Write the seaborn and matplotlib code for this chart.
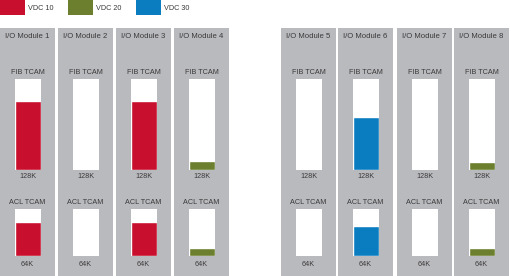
import matplotlib
matplotlib.use("Agg")
import matplotlib.pyplot as plt
import seaborn as sns
from matplotlib.patches import Rectangle

sns.set_theme(style="white")
plt.rcParams['font.family'] = ['Liberation Sans', 'DejaVu Sans']

# ---- data ----
modules = ["I/O Module 1", "I/O Module 2", "I/O Module 3", "I/O Module 4",
           "I/O Module 5", "I/O Module 6", "I/O Module 7", "I/O Module 8"]
module_vdc = ["VDC 10", None, "VDC 10", "VDC 20", None, "VDC 30", None, "VDC 20"]
fib_used = [0.76, 0.0, 0.76, 0.10, 0.0, 0.58, 0.0, 0.09]
acl_used = [0.72, 0.0, 0.72, 0.18, 0.0, 0.64, 0.0, 0.17]
fib_capacity_label = "128K"
acl_capacity_label = "64K"
vdc_names = ["VDC 10", "VDC 20", "VDC 30"]
vdc_colors = ["#c8102e", "#6b7f2e", "#0a7dc0"]

W, H = 511, 276
fig = plt.figure(figsize=(W / 100, H / 100), dpi=100)
fig.patch.set_facecolor("white")

GRAY = "#b9babe"
TXT = "#3a3a3a"

def fx(px):
    return px / W

def fy(py):
    return 1 - py / H

panel_x = [0, 58, 116, 174, 281, 338, 397, 454]
panel_w = 55
panel_top, panel_bot = 28, 276
bar_off, bar_w = 15, 26
fib_top, fib_bot = 79, 170
acl_top, acl_bot = 209, 256

color_map = dict(zip(vdc_names, vdc_colors))

for i, name in enumerate(modules):
    x0 = panel_x[i]
    pax = fig.add_axes([fx(x0), fy(panel_bot), fx(panel_w), (panel_bot - panel_top) / H])
    pax.set_facecolor(GRAY)
    pax.set_xticks([]); pax.set_yticks([])
    for s in pax.spines.values():
        s.set_visible(False)
    cx = fx(x0 + panel_w / 2)
    fig.text(cx, fy(36), name, ha="center", va="center", fontsize=5.6, color=TXT)
    fig.text(cx, fy(72), "FIB TCAM", ha="center", va="center", fontsize=5.2, color=TXT)
    fig.text(cx, fy(177), fib_capacity_label, ha="center", va="center", fontsize=5.2, color=TXT)
    fig.text(cx, fy(202), "ACL TCAM", ha="center", va="center", fontsize=5.2, color=TXT)
    fig.text(cx, fy(264), acl_capacity_label, ha="center", va="center", fontsize=5.2, color=TXT)

    col = color_map.get(module_vdc[i], "white")
    for (top, bot, used) in [(fib_top, fib_bot, fib_used[i]), (acl_top, acl_bot, acl_used[i])]:
        bax = fig.add_axes([fx(x0 + bar_off), fy(bot), fx(bar_w), (bot - top) / H])
        sns.barplot(x=[0], y=[1.0], color="white", width=1.0, ax=bax, saturation=1)
        if used > 0:
            sns.barplot(x=[0], y=[used], color=col, width=1.0, ax=bax, saturation=1)
        bax.set_xlim(-0.5, 0.5)
        bax.set_ylim(0, 1)
        bax.set_xticks([]); bax.set_yticks([])
        bax.set_xlabel(""); bax.set_ylabel("")
        bax.set_facecolor("white")
        for s in bax.spines.values():
            s.set_visible(False)

# legend
leg_x = [0, 68, 136]
for lx, nm, c in zip(leg_x, vdc_names, vdc_colors):
    fig.patches.append(Rectangle((fx(lx), fy(15)), fx(25), 15 / H, transform=fig.transFigure,
                                 facecolor=c, edgecolor="none"))
    fig.text(fx(lx + 28), fy(8), nm, ha="left", va="center", fontsize=5.2, color=TXT)

fig.savefig("out.png", dpi=100)
